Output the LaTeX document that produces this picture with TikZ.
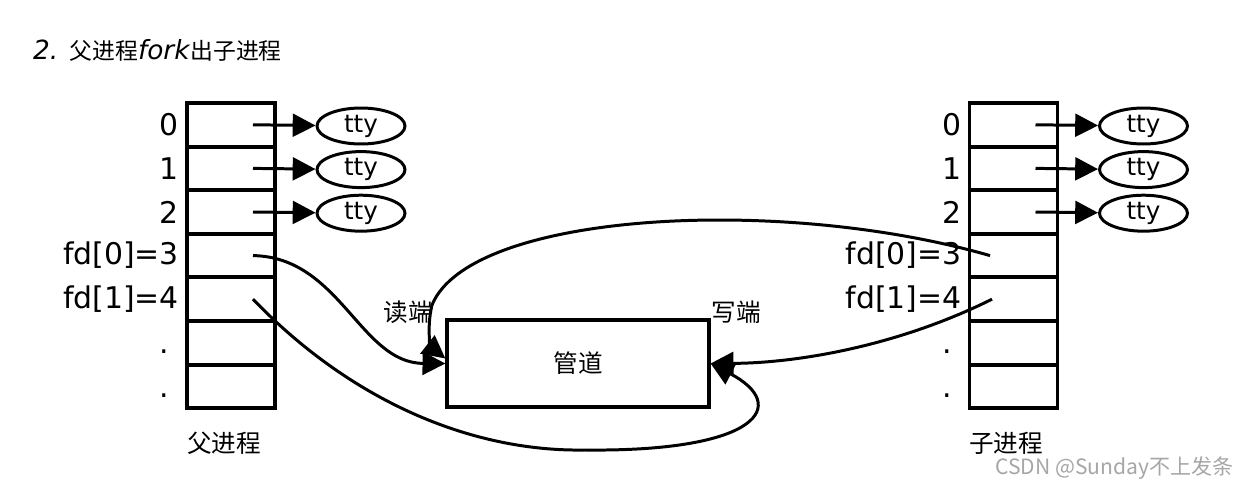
\documentclass[tikz,border=0pt]{standalone}
\usepackage{fontspec}
\setmainfont{DejaVu Sans}
\newfontfamily\cjk{Noto Sans CJK SC}
\usetikzlibrary{shapes.geometric,arrows.meta}

\begin{document}
\begin{tikzpicture}[x=0.02cm,y=-0.02cm,
	font=\fontsize{17}{20}\selectfont,
	slot/.style={ draw, line width=2.2pt, minimum width=1.76cm, minimum height=0.872cm, inner sep=0pt },
	tty/.style={ ellipse, draw, line width=1.7pt, minimum width=1.76cm, minimum height=0.72cm, inner sep=0pt, font=\fontsize{14}{16}\selectfont },
	pipebox/.style={ draw, line width=1.9pt, minimum width=5.24cm, minimum height=1.74cm, font=\cjk\fontsize{14}{16}\selectfont },
	link/.style={ line width=1.7pt, -{Triangle[length=13pt,width=13pt]} },
	tag/.style={ font=\cjk\fontsize{14}{16}\selectfont }
]
\useasboundingbox (0,0) rectangle (1245,490);

\node at (27,50) (title) [anchor=west,font=\fontsize{15}{18}\selectfont] {\textit{2.} {\cjk\fontsize{13}{16}\selectfont 父进程}\textit{fork}{\cjk\fontsize{13}{16}\selectfont 出子进程}};

\node at (231,124.8) (l0) [slot,label=left:0] {};
\node at (231,168.4) (l1) [slot,label=left:1] {};
\node at (231,212) (l2) [slot,label=left:2] {};
\node at (231,255.6) (l3) [slot,label={left:fd[0]=3}] {};
\node at (231,299.2) (l4) [slot,label={left:fd[1]=4}] {};
\node at (231,342.8) (l5) [slot,label={left:.\hphantom{.}\vphantom{0}}] {};
\node at (231,386.4) (l6) [slot,label={left:.\hphantom{.}\vphantom{0}}] {};
\node at (181,443) (lname) [tag,anchor=west] {父进程};

\node at (361,126) (lt0) [tty] {tty};
\node at (361,169.6) (lt1) [tty] {tty};
\node at (361,213.2) (lt2) [tty] {tty};
\draw[link] ([xshift=0.44cm]l0.center) -- (lt0);
\draw[link] ([xshift=0.44cm]l1.center) -- (lt1);
\draw[link] ([xshift=0.44cm]l2.center) -- (lt2);

\node at (1013.5,124.8) (r0) [slot,label=left:0] {};
\node at (1013.5,168.4) (r1) [slot,label=left:1] {};
\node at (1013.5,212) (r2) [slot,label=left:2] {};
\node at (1013.5,255.6) (r3) [slot,label={left:fd[0]=3}] {};
\node at (1013.5,299.2) (r4) [slot,label={left:fd[1]=4}] {};
\node at (1013.5,342.8) (r5) [slot,label={left:.\hphantom{.}\vphantom{0}}] {};
\node at (1013.5,386.4) (r6) [slot,label={left:.\hphantom{.}\vphantom{0}}] {};
\node at (963,443) (rname) [tag,anchor=west] {子进程};

\node at (1143.5,126) (rt0) [tty] {tty};
\node at (1143.5,169.6) (rt1) [tty] {tty};
\node at (1143.5,213.2) (rt2) [tty] {tty};
\draw[link] ([xshift=0.44cm]r0.center) -- (rt0);
\draw[link] ([xshift=0.44cm]r1.center) -- (rt1);
\draw[link] ([xshift=0.44cm]r2.center) -- (rt2);

\node at (578,363.5) (pipe) [pipebox] {管道};
\node at (408,312) (rdend) [tag] {读端};
\node at (736,312) (wrend) [tag] {写端};

\draw[link] ([xshift=0.44cm]l3.center) .. controls (340,257) and (360,363) .. (pipe.west);
\draw[link] ([xshift=-0.47cm]r3.center) .. controls (780,195) and (470,212) .. (432,305)
	.. controls (426,330) and (432,348) .. ([yshift=0.1cm]pipe.west);
\draw[link] ([xshift=0.44cm]l4.center) .. controls (350,400) and (470,452) .. (585,450)
	.. controls (760,452) and (790,405) .. (pipe.east);
\draw[link] ([xshift=-0.43cm]r4.center) .. controls (900,345) and (800,363) .. (pipe.east);

\node at (1240,468) (mark) [anchor=east,text=black!35,font=\cjk\fontsize{12}{14}\selectfont] {CSDN @Sunday不上发条};
\end{tikzpicture}
\end{document}
